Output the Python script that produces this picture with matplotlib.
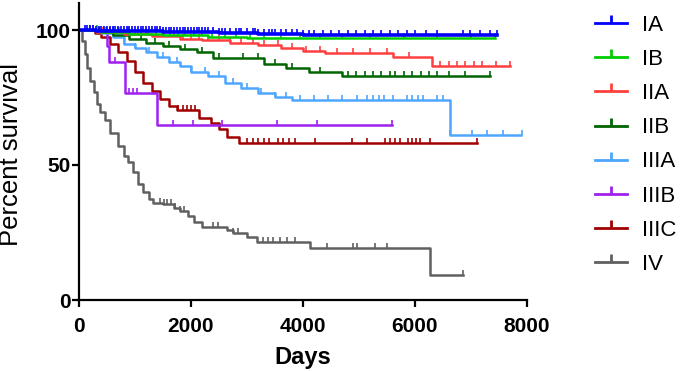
import numpy as np
import matplotlib
matplotlib.use("Agg")
import matplotlib.pyplot as plt
from matplotlib.lines import Line2D

plt.rcParams['font.family'] = ['Liberation Sans', 'DejaVu Sans']

# groups, colours
labels = ['IA', 'IB', 'IIA', 'IIB', 'IIIA', 'IIIB', 'IIIC', 'IV']
colors = ['#0000FF', '#00CC00', '#FF4040', '#006400', '#4DA6FF', '#A020F0', '#A00000', '#606060']

# step curves (days, percent survival)
ia_t = [0, 300, 800, 1500, 2500, 3200, 4000, 7460]
ia_s = [100, 99.8, 99.6, 99.3, 99.0, 98.6, 98.2, 98.2]
ib_t = [0, 400, 900, 1500, 2300, 3000, 7420]
ib_s = [100, 99.2, 98.6, 98.0, 97.5, 97.0, 97.0]
iia_t = [0, 300, 800, 1300, 1800, 2200, 2700, 3200, 3600, 4000, 4400, 5600, 6300, 7700]
iia_s = [100, 99.3, 98.5, 97.6, 96.8, 96.2, 95.3, 94.4, 93.5, 92.4, 91.6, 90.0, 86.7, 86.7]
iib_t = [0, 300, 600, 900, 1200, 1500, 1800, 2100, 2400, 3300, 3700, 4100, 4700, 7340]
iib_s = [100, 99.2, 98.0, 96.8, 95.2, 94.0, 93.0, 91.8, 89.5, 87.5, 86.0, 84.6, 83.0, 83.0]
iiia_t = [0, 400, 600, 800, 1000, 1200, 1400, 1600, 1800, 2000, 2300, 2600, 2900, 3200, 3500, 3800, 6620, 7900]
iiia_s = [100, 99, 97.5, 95.0, 93.5, 91.8, 90.0, 88.0, 86.5, 84.5, 83.0, 80.5, 78.5, 76.5, 75.2, 74.0, 61.0, 61.0]
iiib_t = [0, 500, 540, 820, 1390, 5590]
iiib_s = [100, 94.1, 88.2, 76.5, 64.7, 64.7]
iiic_t = [0, 280, 400, 550, 700, 850, 1000, 1150, 1300, 1450, 1600, 1750, 2150, 2350, 2500, 2650, 2850, 7100]
iiic_s = [100, 98.8, 97.5, 95.0, 92.0, 88.5, 84.5, 80.5, 77.5, 74.5, 72.0, 70.5, 67.5, 65.5, 63.5, 60.5, 58.0, 58.0]
iv_t = [0, 50, 100, 150, 200, 260, 320, 380, 460, 560, 700, 800, 875, 960, 1050, 1150, 1250, 1330,
        1500, 1600, 1700, 1800, 1950, 2050, 2200, 2650, 2750, 3000, 3180, 4120, 6270, 6860]
iv_s = [100, 96, 91, 86, 81, 77, 72.5, 69.5, 66.5, 62, 57, 53.5, 51, 47.5, 43, 40, 37.5, 36,
        35.5, 35.5, 34, 32.8, 31, 29, 27, 26, 24.8, 23.3, 21.5, 19.3, 9.3, 9.3]

# censored times
ia_c = [100, 150, 200, 250, 300, 350, 400, 450, 500, 550, 600, 650, 700, 750, 800, 850, 900, 950,
        1000, 1050, 1100, 1150, 1200, 1250, 1300, 1350, 1400, 1450, 1500, 1550, 1600, 1650, 1700,
        1750, 1800, 1850, 1900, 1950, 2000, 2050, 2100, 2150, 2200, 2250, 2300, 2400, 2500, 2550,
        2600, 2700, 2800, 2850, 2900, 3000, 3100, 3150, 3200, 3300, 3400, 3450, 3500, 3600, 3700,
        3800, 3900, 4000, 4100, 4200, 4350, 4500, 4650, 4800, 4950, 5100, 5250, 5400, 5550, 5700,
        5850, 6000, 6200, 6400, 6850, 6980, 7160, 7340, 7460]
ib_c = [200, 330, 480, 600, 720, 880, 1000, 1100, 1230, 1380, 1500, 1620, 1760, 1900, 2050, 2200,
        2380, 2600, 2800, 3050, 3300, 3600, 3950, 4300, 4700, 5200, 5800, 6400, 7000, 7420]
iia_c = [250, 420, 560, 700, 900, 1050, 1200, 1380, 1520, 1700, 1850, 2000, 2150, 2300, 2500, 2700,
         2900, 3100, 3300, 3550, 3800, 4050, 4300, 4600, 4900, 5200, 5500, 5900, 6450, 6600, 6750,
         6900, 7050, 7200, 7450, 7700]
iib_c = [350, 600, 850, 1100, 1350, 1600, 1900, 2200, 2500, 2930, 3200, 3500, 3800, 4300, 4800, 4950,
         5100, 5250, 5400, 5550, 5650, 5800, 5950, 6100, 6250, 6400, 6600, 6900, 7340]
iiia_c = [600, 800, 1000, 1250, 1500, 1750, 2000, 2250, 2500, 2750, 3000, 3250, 3500, 3700, 3950, 4200,
          4450, 4700, 4960, 5140, 5250, 5350, 5450, 5600, 5860, 5950, 6050, 6140, 6390, 6500, 6620,
          7020, 7290, 7570, 7910]
iiib_c = [640, 900, 960, 1040, 1680, 2040, 2550, 3540, 4250, 5590]
iiic_c = [1770, 1850, 1920, 2000, 2070, 3000, 3100, 3200, 3300, 3400, 3550, 3650, 3750, 3850, 4210,
          4875, 5140, 5460, 5550, 5650, 5730, 5870, 5950, 6020, 6090, 6270, 7100]
iv_c = [1450, 1520, 1580, 1650, 1720, 1800, 1870, 2390, 2480, 2750, 2840, 3290, 3380, 3460, 3590,
        3710, 3860, 4430, 4900, 4960, 5290, 5500, 6860]

times = [ia_t, ib_t, iia_t, iib_t, iiia_t, iiib_t, iiic_t, iv_t]
survs = [ia_s, ib_s, iia_s, iib_s, iiia_s, iiib_s, iiic_s, iv_s]
cens = [ia_c, ib_c, iia_c, iib_c, iiia_c, iiib_c, iiic_c, iv_c]

fig = plt.figure(figsize=(6.85, 3.71), dpi=100)
ax = fig.add_axes([79 / 685, 71 / 371, 448 / 685, 297 / 371])

# draw IV first so IA ends up on top
for i in reversed(range(len(labels))):
    t = np.array(times[i])
    s = np.array(survs[i])
    lw = 2.6 if i == 0 else 1.8
    ax.step(t, s, where='post', color=colors[i], lw=lw)
    c = np.array(cens[i])
    idx = np.searchsorted(t, c, side='right') - 1
    ax.plot(c, s[idx], linestyle='none', marker=2, ms=3.5, mew=1.2, color=colors[i])

ax.set_xlim(0, 8000)
ax.set_ylim(0, 110)
ax.set_xticks([0, 2000, 4000, 6000, 8000])
ax.set_yticks([0, 50, 100])
for sp in ['top', 'right']:
    ax.spines[sp].set_visible(False)
for sp in ['left', 'bottom']:
    ax.spines[sp].set_linewidth(1.6)
ax.tick_params(length=5, width=1.6, labelsize=15)
ax.tick_params(axis='x', pad=7.5)
ax.tick_params(axis='y', pad=1)
for lab in ax.get_xticklabels() + ax.get_yticklabels():
    lab.set_fontweight('bold')
ax.set_xlabel('Days', fontsize=17, fontweight='bold', va='top')
ax.xaxis.set_label_coords(0.5, -0.155)
ax.set_ylabel('Percent survival', fontsize=18.5, va='center')
ax.yaxis.set_label_coords(-0.152, 0.49)

handles = [Line2D([], [], color=c, lw=2, marker=2, ms=6, mew=2) for c in colors]
fig.legend(handles, labels, loc='upper left', bbox_to_anchor=(595 / 685, 1 - 15 / 371),
           frameon=False, fontsize=16, numpoints=1, borderpad=0, borderaxespad=0,
           handlelength=1.45, handletextpad=0.65, labelspacing=0.59)

fig.savefig('out.png', dpi=100)
